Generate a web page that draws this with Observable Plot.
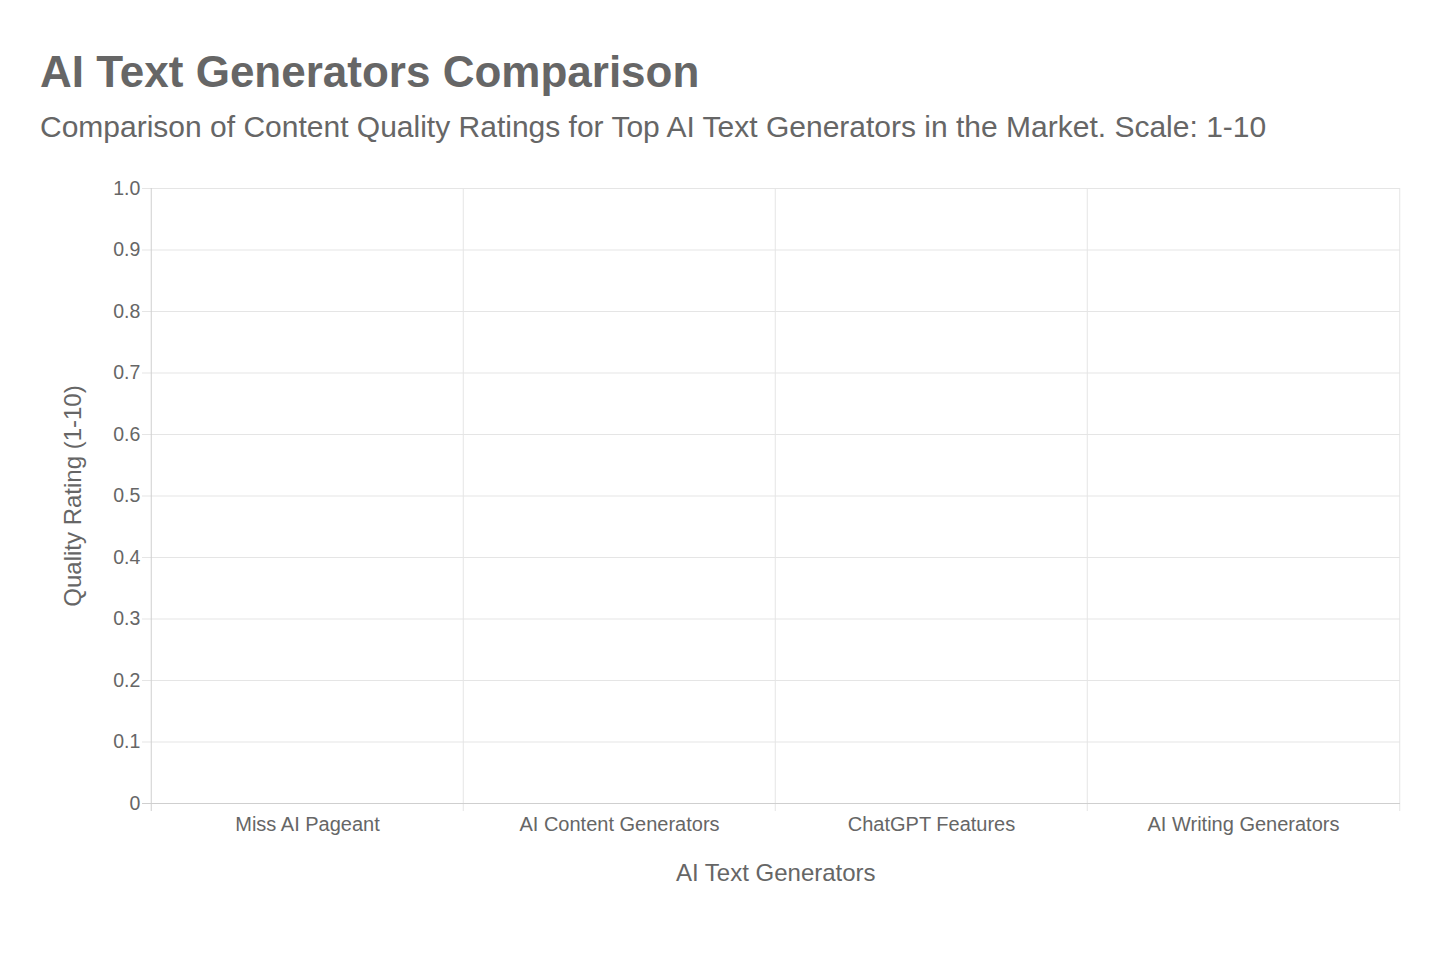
<!DOCTYPE html>
<html><head><meta charset="utf-8">
<script src="https://cdn.jsdelivr.net/npm/d3@7"></script>
<script src="https://cdn.jsdelivr.net/npm/@observablehq/plot@0.6"></script>
<style>
body{margin:0;background:#fff;font-family:"Liberation Sans",Arial,Helvetica,sans-serif;color:#666;}
#wrap{position:relative;width:1440px;height:960px;overflow:hidden;}
#title{position:absolute;left:40px;top:50px;margin:0;font-size:44px;line-height:44px;font-weight:bold;color:#666;white-space:nowrap;}
#subtitle{position:absolute;left:40px;top:112px;margin:0;font-size:30px;line-height:30px;color:#666;white-space:nowrap;}
#chart{position:absolute;left:0;top:160px;}
</style>
</head><body>
<div id="wrap">
<div id="title">AI Text Generators Comparison</div>
<div id="subtitle">Comparison of Content Quality Ratings for Top AI Text Generators in the Market. Scale: 1-10</div>
<div id="chart"></div>
</div>
<script>
// Data (the reference shows no bars: ratings are absent)
const categories = ["Miss AI Pageant", "AI Content Generators", "ChatGPT Features", "AI Writing Generators"];
const ratings = [null, null, null, null];
const yTicks = [0, 0.1, 0.2, 0.3, 0.4, 0.5, 0.6, 0.7, 0.8, 0.9, 1.0];
const yTickLabels = ["0", "0.1", "0.2", "0.3", "0.4", "0.5", "0.6", "0.7", "0.8", "0.9", "1.0"];
const xLabel = "AI Text Generators";
const yLabel = "Quality Rating (1-10)";

const data = categories.map((c, i) => ({category: c, rating: ratings[i]}));

const W = 1440, H = 760;
const mL = 150, mR = 40, mT = 28, mB = 117;
const bw = (W - mL - mR) / categories.length;
const gridColor = "#e5e5e5";
const axisColor = "#cfcfcf";

const chart = Plot.plot({
  width: W, height: H,
  marginLeft: mL, marginRight: mR, marginTop: mT, marginBottom: mB,
  style: {fontFamily: '"Liberation Sans", Arial, Helvetica, sans-serif', color: "#666", background: "#fff"},
  x: {type: "band", domain: categories, padding: 0, axis: null},
  y: {domain: [0, 1], axis: null},
  marks: [
    // horizontal grid + left ticks
    Plot.ruleY(yTicks.filter(d => d !== 0), {stroke: gridColor, strokeWidth: 1, insetLeft: -8}),
    // vertical grid at category boundaries (extended below axis as ticks)
    Plot.ruleX(categories.slice(1), {x: d => d, dx: -bw / 2, stroke: gridColor, insetBottom: -8}),
    Plot.ruleX(categories.slice(-1), {x: d => d, dx: bw / 2, stroke: gridColor, insetBottom: -8}),
    Plot.ruleX(categories.slice(0, 1), {x: d => d, dx: -bw / 2, stroke: axisColor, insetBottom: -8}),
    Plot.ruleY([0], {stroke: axisColor, insetLeft: -8}),
    // bars (none in the reference)
    Plot.barY(data.filter(d => d.rating != null), {x: "category", y: "rating", fill: "#4e79a7"}),
    // y tick labels
    Plot.text(yTicks, {x: () => categories[0], y: d => d, dx: -bw / 2 - 11, text: (d, i) => yTickLabels[i], textAnchor: "end", fontSize: 19.5, fill: "#666"}),
    // x tick labels
    Plot.text(categories, {x: d => d, y: 0, dy: 21, text: d => d, fontSize: 20, fill: "#666"}),
    // axis titles
    Plot.text([xLabel], {x: () => categories[1], dx: bw / 2, y: 0, dy: 70, text: d => d, fontSize: 24, fill: "#666"}),
    Plot.text([yLabel], {x: () => categories[0], dx: -bw / 2 - 78, y: 0.5, text: d => d, rotate: -90, fontSize: 24, fill: "#666"})
  ]
});
document.getElementById("chart").appendChild(chart);
</script>
</body></html>
